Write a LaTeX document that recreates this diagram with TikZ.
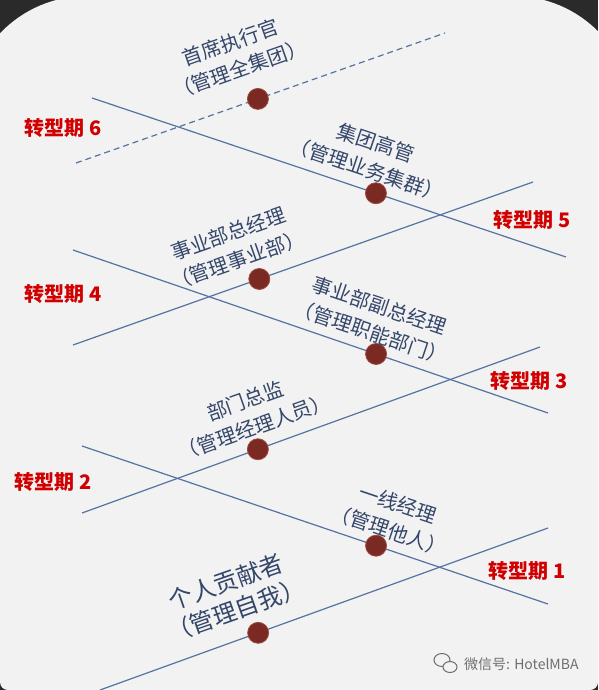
\documentclass[tikz,border=0pt]{standalone}
\usepackage{fontspec}
\setmainfont{Liberation Sans}
\newfontfamily\cjk{Noto Sans CJK SC}
\definecolor{darkbg}{HTML}{2A2A2A}
\definecolor{lightbg}{HTML}{F2F2F2}
\definecolor{lineblue}{HTML}{5573A0}
\definecolor{txtblue}{HTML}{34466A}
\definecolor{dotred}{HTML}{7A2A22}
\definecolor{dotedge}{HTML}{9A4A40}
\definecolor{lblred}{HTML}{D00000}
\definecolor{wmgray}{HTML}{6E6E6E}
\tikzset{
  ln/.style={draw=lineblue, line width=1.2pt},
  dln/.style={ln, dash pattern=on 6pt off 4pt},
  dotnode/.style={circle, fill=dotred, draw=dotedge, line width=0.8pt, minimum size=21pt, inner sep=0pt},
  role/.style={text=txtblue, align=center, inner sep=0pt, font=\cjk\fontsize{20}{28}\selectfont},
  bigrole/.style={role, font=\cjk\fontsize{24}{30}\selectfont},
  up/.style={rotate=19.4},
  down/.style={rotate=-18.6},
  period/.style={text=lblred, inner sep=0pt, font=\cjk\bfseries\fontsize{20}{22}\selectfont},
  wm/.style={text=wmgray, inner sep=0pt, font=\cjk\fontsize{14}{16}\selectfont}
}
\begin{document}
\begin{tikzpicture}[x=1pt,y=-1pt]
\useasboundingbox (0,0) rectangle (598,690);
\clip (0,0) rectangle (598,690);
% background
\fill[darkbg] (0,0) rectangle (598,690);
\fill[lightbg, rounded corners=8pt] (0,116) rectangle (598,690);
\fill[lightbg, rounded corners=8pt] (87,0) rectangle (513,690);
\fill[lightbg] (87,116) circle (120);
\fill[lightbg] (513,116) circle (120);

% line end points
\coordinate (r1a) at (100,690); \coordinate (r1b) at (548,528);
\coordinate (f1a) at (82,446);  \coordinate (f1b) at (548,604);
\coordinate (r2a) at (82,513);  \coordinate (r2b) at (540,347);
\coordinate (f2a) at (73,250);  \coordinate (f2b) at (548,413);
\coordinate (r3a) at (73,345);  \coordinate (r3b) at (533,182);
\coordinate (f3a) at (92,98);   \coordinate (f3b) at (566,257);
\coordinate (r4a) at (76,163);  \coordinate (r4b) at (445,33);

% lines
\draw[ln]  (r1a) -- (r1b);
\draw[ln]  (f1a) -- (f1b);
\draw[ln]  (r2a) -- (r2b);
\draw[ln]  (f2a) -- (f2b);
\draw[ln]  (r3a) -- (r3b);
\draw[ln]  (f3a) -- (f3b);
\draw[dln] (r4a) -- (r4b);

% dots
\path (r1a) -- (r1b) node[dotnode, pos=0.353] (d1) {};
\path (f1a) -- (f1b) node[dotnode, pos=0.631] (d2) {};
\path (r2a) -- (r2b) node[dotnode, pos=0.384] (d3) {};
\path (f2a) -- (f2b) node[dotnode, pos=0.638] (d4) {};
\path (r3a) -- (r3b) node[dotnode, pos=0.405] (d5) {};
\path (f3a) -- (f3b) node[dotnode, pos=0.599] (d6) {};
\path (r4a) -- (r4b) node[dotnode, pos=0.493] (d7) {};

% role texts
\node[bigrole, up] (t1) at (231,596) {个人贡献者\\（管理自我）};
\node[role, down]  (t2) at (393,517) {一线经理\\（管理他人）};
\node[role, up]    (t3) at (250,414) {部门总监\\（管理经理人员）};
\node[role, down]  (t4) at (375,319) {事业部副总经理\\（管理职能部门）};
\node[role, up]    (t5) at (233,247) {事业部总经理\\（管理事业部）};
\node[role, down]  (t6) at (371,156) {集团高管\\（管理业务集群）};
\node[role, up]    (t7) at (235,56)  {首席执行官\\（管理全集团）};

% transition labels
\node[period] (p1) at (527,571) {转型期 1};
\node[period] (p2) at (53,482)  {转型期 2};
\node[period] (p3) at (529,381) {转型期 3};
\node[period] (p4) at (63,294)  {转型期 4};
\node[period] (p5) at (532,220) {转型期 5};
\node[period] (p6) at (63,128)  {转型期 6};

% watermark
\draw[wmgray, line width=1pt, fill=lightbg] (442,660) ellipse (8 and 6.5);
\draw[wmgray, line width=1pt, fill=lightbg] (450,667) ellipse (7 and 5.5);
\node[wm, anchor=west] (wmtext) at (464,664) {微信号: HotelMBA};
\end{tikzpicture}
\end{document}
